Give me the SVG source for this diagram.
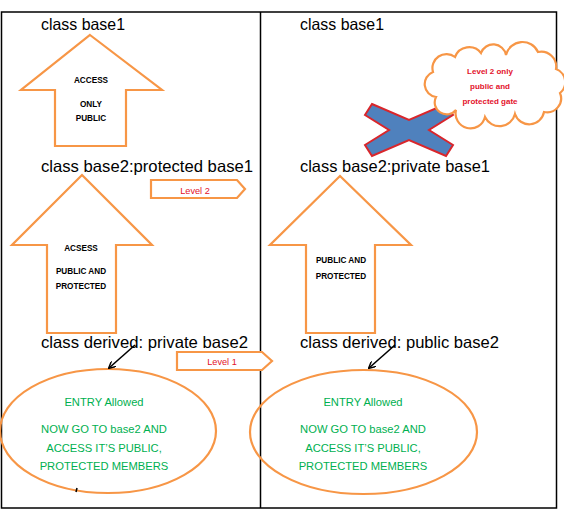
<svg xmlns="http://www.w3.org/2000/svg" width="564" height="513" viewBox="0 0 564 513">
<style>
.frame{fill:none;stroke:#000;stroke-width:1.5}
.big{font-family:"Liberation Sans",Arial,sans-serif;font-size:16.5px;fill:#000}
.blk{font-family:"Liberation Sans",Arial,sans-serif;font-size:8.2px;font-weight:bold;fill:#000;text-anchor:middle}
.org{fill:#fff;stroke:#F79646;stroke-width:2.2;stroke-linejoin:miter}
.red{font-family:"Liberation Sans",Arial,sans-serif;font-size:9.2px;fill:#E3122B;text-anchor:middle}
.redb{font-family:"Liberation Sans",Arial,sans-serif;font-size:8px;font-weight:bold;fill:#E3122B;text-anchor:middle}
.grn{font-family:"Liberation Sans",Arial,sans-serif;font-size:11.2px;fill:#00B050;text-anchor:middle}
.conn{stroke:#000;stroke-width:1.6;fill:none}
</style>
<defs>
<marker id="ah" viewBox="0 0 10 10" refX="9" refY="5" markerWidth="7" markerHeight="7" orient="auto" markerUnits="userSpaceOnUse">
<path d="M0,0 L10,5 L0,10" fill="none" stroke="#000" stroke-width="2"/>
</marker>
</defs>
<rect width="564" height="513" fill="#fff"/>
<g id="frame">
<rect class="frame" x="1.5" y="12" width="555" height="496"/>
<line class="frame" x1="260.5" y1="12" x2="260.5" y2="508"/>
</g>
<g id="left-base1"><text class="big" x="41" y="30" textLength="84" lengthAdjust="spacingAndGlyphs">class base1</text></g>
<g id="left-base2"><text class="big" x="41" y="172" textLength="212" lengthAdjust="spacingAndGlyphs">class base2:protected base1</text></g>
<g id="left-derived"><text class="big" x="41" y="348" textLength="207" lengthAdjust="spacingAndGlyphs">class derived: private base2</text></g>
<g id="right-base1"><text class="big" x="300" y="30" textLength="84" lengthAdjust="spacingAndGlyphs">class base1</text></g>
<g id="right-base2"><text class="big" x="300" y="172" textLength="190" lengthAdjust="spacingAndGlyphs">class base2:private base1</text></g>
<g id="right-derived"><text class="big" x="300" y="348" textLength="199" lengthAdjust="spacingAndGlyphs">class derived: public base2</text></g>
<g id="arrow-access-public">
<polygon class="org" points="90,35 162,90 126,90 126,146 55,146 55,90 21,90"/>
<text class="blk" x="91" y="83">ACCESS</text>
<text class="blk" x="91" y="107">ONLY</text>
<text class="blk" x="91" y="121">PUBLIC</text>
</g>
<g id="arrow-acsess-public-protected">
<polygon class="org" points="82,175 152,245 116,245 116,333 47,333 47,245 12,245"/>
<text class="blk" x="81" y="251">ACSESS</text>
<text class="blk" x="81" y="274">PUBLIC AND</text>
<text class="blk" x="81" y="289">PROTECTED</text>
</g>
<g id="arrow-public-protected">
<polygon class="org" points="340,176 411,245 375,245 375,333 306,333 306,245 270,245"/>
<text class="blk" x="341" y="263">PUBLIC AND</text>
<text class="blk" x="341" y="279">PROTECTED</text>
</g>
<g id="level2">
<polygon class="org" points="151,180 237,180 245,189 237,198 151,198"/>
<text class="red" x="195" y="194">Level 2</text>
</g>
<g id="level1">
<polygon class="org" points="177,352 262,352 272,361 262,370 177,370"/>
<text class="red" x="222" y="365">Level 1</text>
</g>
<g id="blocked-x">
<polygon points="372,104 409,120 446,104 453,115 429,130 453,145 446,156 409,140 372,156 365,145 389,130 365,115" fill="#4F81BD" stroke="#D9262B" stroke-width="2"/>
</g>
<g id="cloud">
<path class="org" d="M433,72 A14,14 0 0 1 455,57 A15,15 0 0 1 481,53 A13,13 0 0 1 506,55 A17,17 0 0 1 538,52 A15,15 0 0 1 556,69 A14,14 0 0 1 560,93 A14,14 0 0 1 544,112 A15,15 0 0 1 515,114 A16,16 0 0 1 485,117 A14,14 0 0 1 456,110 A12,12 0 0 1 436,97 A13,13 0 0 1 433,72 Z"/>
<text class="redb" x="490" y="74">Level 2 only</text>
<text class="redb" x="490" y="89">public  and</text>
<text class="redb" x="490" y="104">protected gate</text>
</g>
<g id="left-entry">
<ellipse class="org" cx="108" cy="431" rx="108" ry="62" style="fill:none"/>
<text class="grn" x="104" y="406">ENTRY Allowed</text>
<text class="grn" x="104" y="433">NOW GO TO base2 AND</text>
<text class="grn" x="104" y="452">ACCESS IT’S PUBLIC,</text>
<text class="grn" x="104" y="470">PROTECTED MEMBERS</text>
</g>
<g id="right-entry">
<ellipse class="org" cx="363.5" cy="432" rx="113.5" ry="62" style="fill:none"/>
<text class="grn" x="363" y="406">ENTRY Allowed</text>
<text class="grn" x="363" y="433">NOW GO TO base2 AND</text>
<text class="grn" x="363" y="452">ACCESS IT’S PUBLIC,</text>
<text class="grn" x="363" y="470">PROTECTED MEMBERS</text>
</g>
<g id="mark"><path d="M77,488 L76,492" stroke="#000" stroke-width="1.5"/></g>
<g id="connectors">
<line class="conn" x1="135" y1="345" x2="109" y2="368" marker-end="url(#ah)"/>
<line class="conn" x1="395" y1="345" x2="369" y2="368" marker-end="url(#ah)"/>
</g>
</svg>
